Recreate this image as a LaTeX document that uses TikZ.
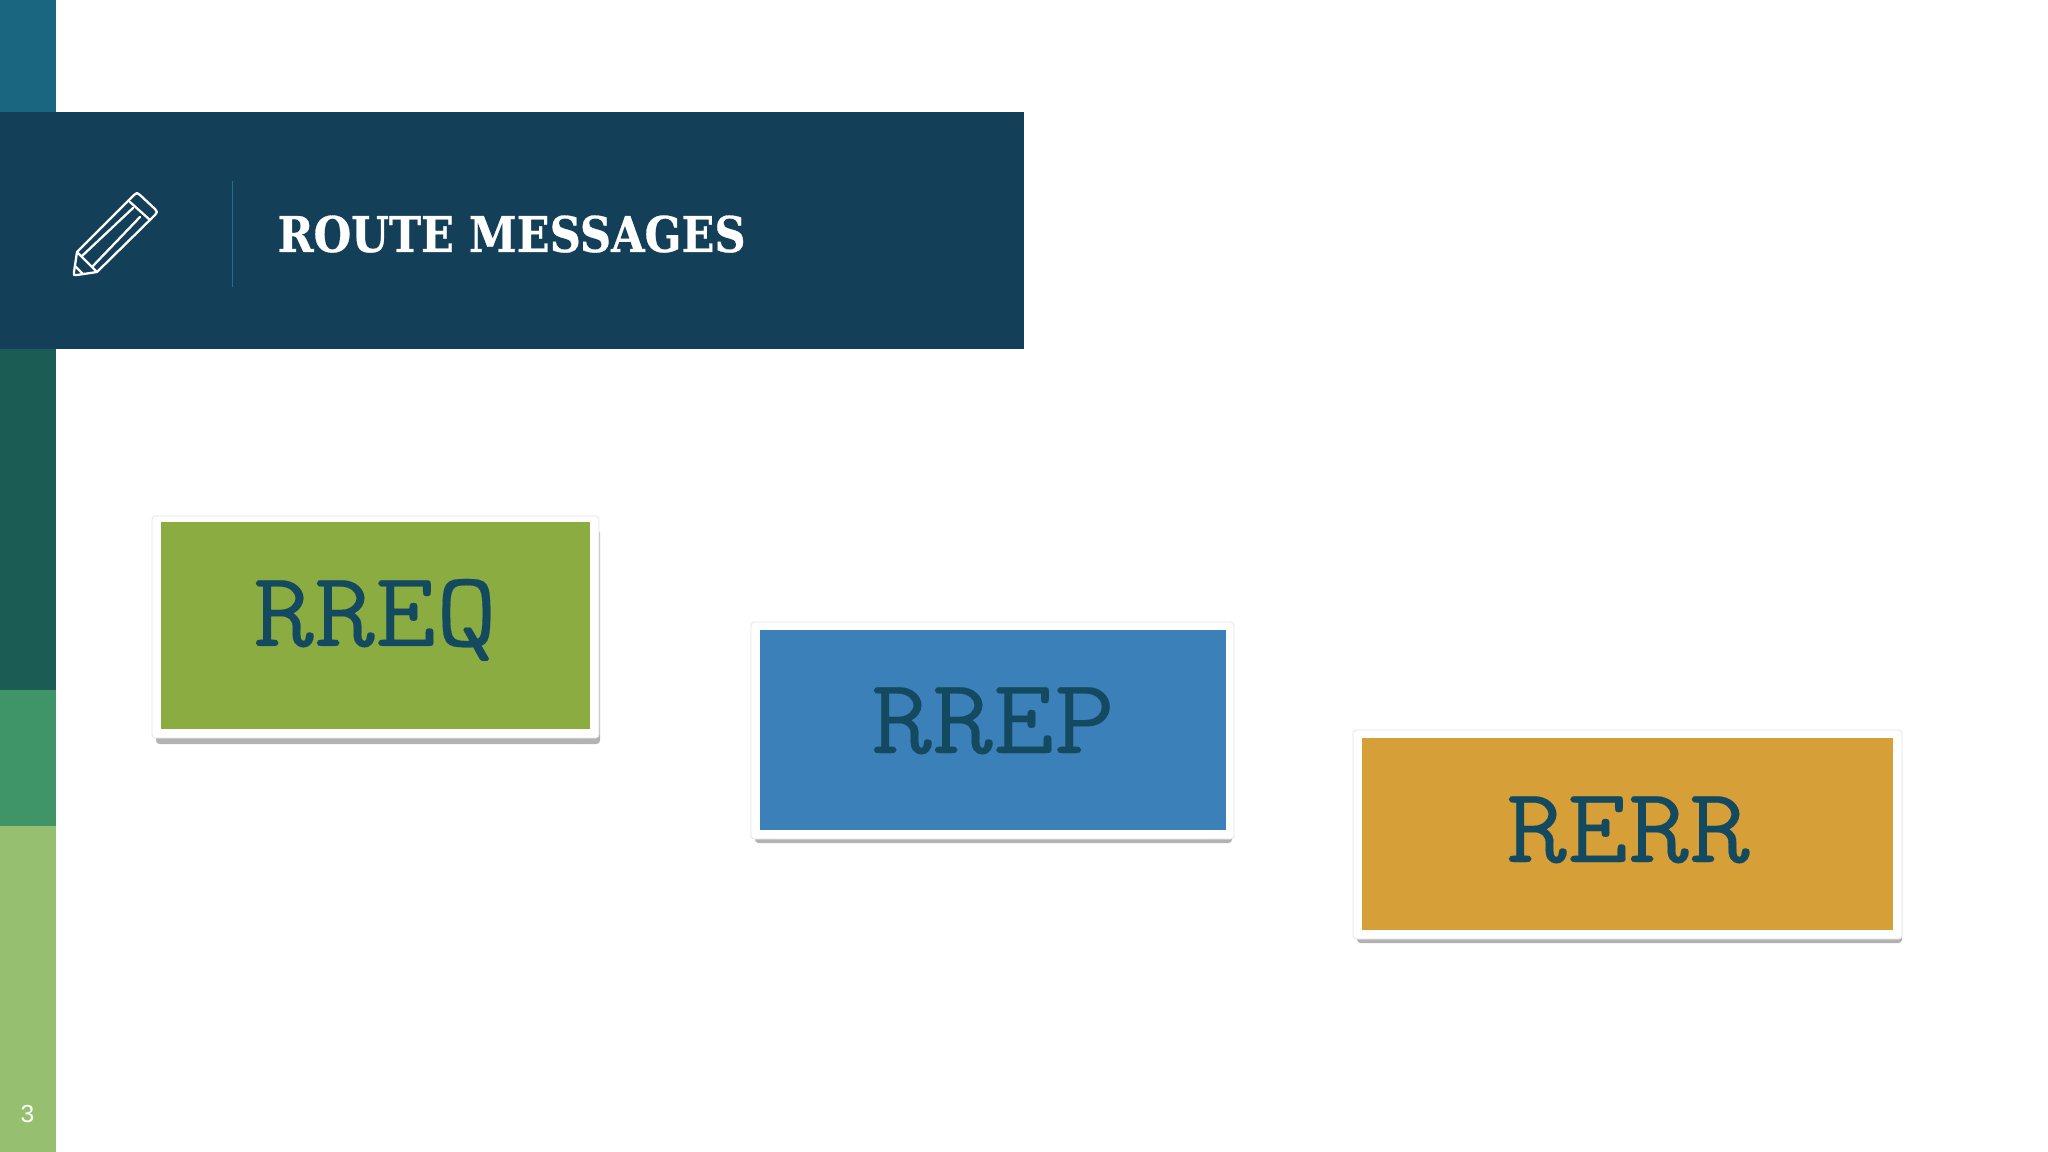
\documentclass[tikz,border=0pt]{standalone}
\usepackage{fontspec}
\setsansfont{Liberation Sans}
\newfontfamily\titlefont[FakeStretch=0.975,FakeBold=0.6]{DejaVu Serif Condensed Bold}
\newfontfamily\msgfont[FakeStretch=1.1,FakeBold=0.12]{Latin Modern Mono}
\definecolor{bandblue}{HTML}{143F59}
\definecolor{barteal}{HTML}{1A6680}
\definecolor{bardark}{HTML}{1B5C55}
\definecolor{barmid}{HTML}{3F9468}
\definecolor{barlight}{HTML}{96C06F}
\definecolor{rreqgreen}{HTML}{8BAC41}
\definecolor{rrepblue}{HTML}{3B80B9}
\definecolor{rerrgold}{HTML}{D69F38}
\definecolor{rulecol}{HTML}{226F8A}
\definecolor{msgink}{HTML}{134A60}
\tikzset{
    msgtext/.style={font=\msgfont\fontsize{30.6}{30.6}\selectfont, text=msgink, anchor=base, inner sep=0pt},
    pencil/.style={draw=white, line width=0.65pt, line join=round, line cap=round},
    cardshadow/.style={fill=black!30, rounded corners=1pt},
    cardface/.style={fill=white, draw=black!10, line width=0.25pt, rounded corners=1pt},
}
\begin{document}
\begin{tikzpicture}[x=0.01cm, y=-0.01cm]
    \useasboundingbox (0,0) rectangle (2048,1152);
    \fill[white] (0,0) rectangle (2048,1152);
    % Side bars
    \fill[barteal] (0,0) rectangle (55.5,112);
    \fill[bardark] (0,349) rectangle (55.5,690);
    \fill[barmid] (0,690) rectangle (55.5,826);
    \fill[barlight] (0,826) rectangle (55.5,1152);
    \node[text=white, font=\sffamily\fontsize{7}{7}\selectfont] (pagenum) at (27.5,1114) {3};
    % Title band
    \fill[bandblue] (0,112) rectangle (1024,349);
    \draw[rulecol, line width=0.45pt] (232.5,181) -- (232.5,287);
    \node[anchor=base west, text=white, inner sep=0pt, font=\titlefont\fontsize{14}{14}\selectfont] (title) at (277,252) {ROUTE MESSAGES};
    % Pencil
    \draw[pencil] (77,252) -- (134,195) -- (137,193) -- (140,195) -- (155,209) -- (157,212) -- (155,215) -- (97,272) -- (77,275) -- (74,275) -- (74,272) -- cycle;
    \draw[pencil] (130,202) -- (150,220);
    \draw[pencil] (77,252) -- (97,272);
    \draw[pencil] (133,208) -- (82,256);
    \draw[pencil] (140,217) -- (92,267);
    \draw[pencil] (75,266) -- (83,274);
    % RREQ
    \fill[cardshadow] (156,530) rectangle (600,744);
    \draw[cardface] (152,516) rectangle (599,738);
    \fill[rreqgreen] (161,522.5) rectangle (590,729);
    \node[msgtext] (rreq) at (375,646) {RREQ};
    % RREP
    \fill[cardshadow] (755,640) rectangle (1232,843);
    \draw[cardface] (751,622) rectangle (1234,839);
    \fill[rrepblue] (760,630) rectangle (1226,830);
    \node[msgtext] (rrep) at (993,753) {RREP};
    % RERR
    \fill[cardshadow] (1357,750) rectangle (1902,943);
    \draw[cardface] (1353,730) rectangle (1902,939);
    \fill[rerrgold] (1362,738) rectangle (1893,930);
    \node[msgtext] (rerr) at (1628,862) {RERR};
\end{tikzpicture}
\end{document}
